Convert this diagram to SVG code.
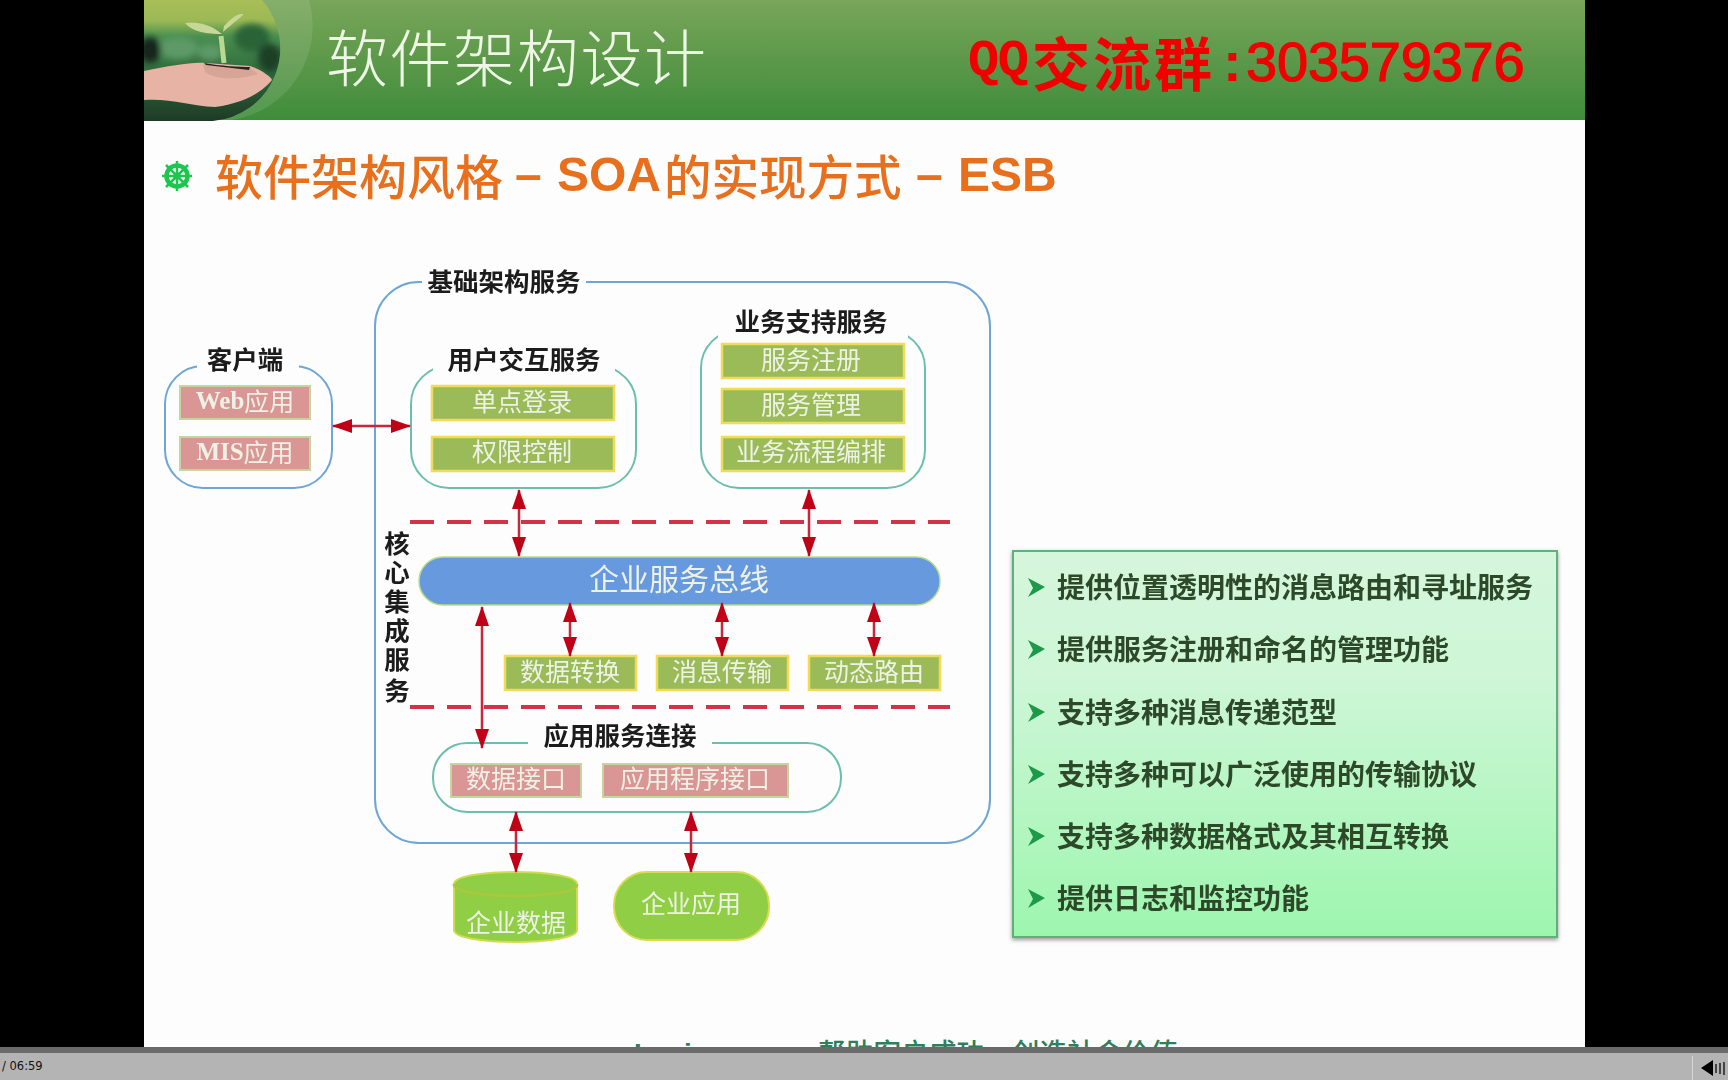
<svg xmlns="http://www.w3.org/2000/svg" width="1728" height="1080" viewBox="0 0 1728 1080">
<style>
text{font-family:"Noto Sans CJK SC","Noto Sans",sans-serif}
.lbl{font-size:25.5px;font-weight:700;fill:#1a1a1a;text-anchor:middle;dominant-baseline:central;transform:translateY(-2px)}
.w{font-size:25px;font-weight:400;fill:#eef2e6;text-anchor:middle;dominant-baseline:central;transform:translateY(-2px)}
.g{fill:#9bbb59;stroke:#f0dc55;stroke-width:2.5}
.p{fill:#d99694;stroke:#c5d5a0;stroke-width:2}
.tb{fill:none;stroke:#6cbfae;stroke-width:2}
.bb{fill:none;stroke:#6ea6d6;stroke-width:2}
.gap{fill:#fdfdfd}
.a{stroke:#c8283c;stroke-width:2.5;fill:none;marker-start:url(#ls);marker-end:url(#le)}
.d{stroke:#d4304a;stroke-width:4;stroke-dasharray:24 13;fill:none}
.pt{font-size:28px;font-weight:700;fill:#2e4a2c;dominant-baseline:central}
.bu{fill:#1e9a4a}
.la{font-family:"Liberation Sans",sans-serif;font-weight:700}
</style>
<defs>
<marker id="le" markerUnits="userSpaceOnUse" markerWidth="20" markerHeight="14" refX="19" refY="7" orient="auto"><path d="M0 0L20 7L0 14Z" fill="#c00016"/></marker>
<marker id="ls" markerUnits="userSpaceOnUse" markerWidth="20" markerHeight="14" refX="1" refY="7" orient="auto"><path d="M20 0L0 7L20 14Z" fill="#c00016"/></marker>
<linearGradient id="hdr" x1="0" y1="0" x2="0" y2="1"><stop offset="0" stop-color="#78a65a"/><stop offset=".55" stop-color="#5a9748"/><stop offset="1" stop-color="#3f8d3c"/></linearGradient>
<linearGradient id="pan" x1="0" y1="0" x2="0" y2="1"><stop offset="0" stop-color="#d6f6dc"/><stop offset=".35" stop-color="#cdf6d6"/><stop offset="1" stop-color="#9df6ae"/></linearGradient>
<linearGradient id="ph" x1="0" y1="0" x2="0" y2="1"><stop offset="0" stop-color="#a9be58"/><stop offset=".17" stop-color="#9cb954"/><stop offset=".3" stop-color="#4a8f50"/><stop offset=".6" stop-color="#2f6a3c"/><stop offset="1" stop-color="#1e3a26"/></linearGradient>
<clipPath id="pc"><path d="M144 0H262A73 73 0 0 1 213 121H144Z"/></clipPath>
<clipPath id="bot"><rect x="144" y="1020" width="1441" height="27"/></clipPath>
<filter id="b1" x="-5%" y="-5%" width="110%" height="110%"><feGaussianBlur stdDeviation="0.7"/></filter>
<filter id="b3" x="-10%" y="-10%" width="120%" height="120%"><feGaussianBlur stdDeviation="3"/></filter>
<filter id="sh" x="-5%" y="-5%" width="110%" height="110%"><feDropShadow dx="0" dy="2" stdDeviation="2" flood-color="#555" flood-opacity=".6"/></filter>
</defs>
<rect width="1728" height="1080" fill="#000"/>
<rect x="144" y="0" width="1441" height="1047" fill="#fdfdfd"/>

<g id="header">
<rect x="144" y="0" width="1441" height="120" fill="url(#hdr)"/>
<path d="M144 0H309A95 95 0 0 1 232 120H144Z" fill="#fff" fill-opacity=".1"/>
<g clip-path="url(#pc)" filter="url(#b1)">
<rect x="144" y="0" width="145" height="121" fill="url(#ph)"/>
<g filter="url(#b3)">
<ellipse cx="178" cy="48" rx="20" ry="11" fill="#5d9a68"/>
<ellipse cx="210" cy="52" rx="12" ry="8" fill="#5d9a68"/>
<ellipse cx="252" cy="38" rx="18" ry="14" fill="#2a6438"/>
<ellipse cx="150" cy="50" rx="11" ry="13" fill="#12281a"/>
<ellipse cx="270" cy="58" rx="12" ry="14" fill="#1a4026"/>
</g>
<path d="M144 71C170 66 190 62 205 63L250 66C262 70 272 78 272 80C262 92 245 103 215 107C190 106 170 98 144 100Z" fill="#e7b3a4"/>
<path d="M203 64L250 68L258 74C240 80 215 80 205 72Z" fill="#d7a595"/>
<path d="M204 63C220 66 240 67 250 67L249 70L206 65Z" fill="#2a2420"/>
<path d="M224 63L221 36" stroke="#b9d890" stroke-width="5" fill="none"/>
<path d="M222 34C210 24 196 21 185 23C192 32 208 34 222 34Z" fill="#c5d89a"/>
<path d="M223 32C232 24 240 18 244 14C236 13 230 20 224 26Z" fill="#c5d89a"/>
</g>
<g filter="url(#b1)">
<text x="326" y="55" font-size="62" font-weight="300" fill="#eef6e6" dominant-baseline="central" textLength="380">软件架构设计</text>
<text y="61" font-size="58" font-weight="700" fill="#f00000" dominant-baseline="central"><tspan x="968" font-family="'Liberation Mono',monospace" font-size="52" letter-spacing="-1.5">QQ</tspan><tspan x="1032" letter-spacing="3">交流群</tspan><tspan x="1223" font-family="'Liberation Sans',sans-serif" font-size="56">:</tspan><tspan x="1246" font-family="'Liberation Sans',sans-serif" font-size="56" font-weight="400" stroke="#f00000" stroke-width="1.2" letter-spacing="-0.2">303579376</tspan></text>
</g>
</g>

<g id="subtitle" filter="url(#b1)">
<g transform="translate(177 176)" fill="#1ec650">
<circle r="10.5" fill="none" stroke="#1ec650" stroke-width="4.5"/><circle r="3.5"/>
<path d="M0-15V15M-15 0H15M-11-11L11 11M-11 11L11-11" stroke="#1ec650" stroke-width="2.5"/>
</g>
<text y="174" font-size="48" fill="#e8701e" font-weight="500" dominant-baseline="central"><tspan x="215">软件架构风格</tspan><tspan x="515" class="la">–</tspan><tspan x="557" class="la">SOA</tspan><tspan x="664" font-size="47.5">的实现方式</tspan><tspan x="916" class="la">–</tspan><tspan x="958" class="la">ESB</tspan></text>
</g>

<g filter="url(#b1)">
<g id="infra">
<rect class="bb" x="375" y="282" width="615" height="561" rx="44"/>
<rect class="gap" x="422" y="270" width="164" height="24"/>
<text class="lbl" x="504" y="281">基础架构服务</text>
</g>
<g id="client">
<rect class="bb" x="165" y="366" width="167" height="122" rx="38"/>
<rect class="gap" x="197" y="355" width="102" height="20"/>
<text class="lbl" x="245" y="359">客户端</text>
<rect class="p" x="180" y="386" width="130" height="33"/>
<text class="w" x="245" y="402"><tspan font-family="'Liberation Serif',serif" font-weight="700">Web</tspan>应用</text>
<rect class="p" x="180" y="437" width="130" height="33"/>
<text class="w" x="245" y="453"><tspan font-family="'Liberation Serif',serif" font-weight="700">MIS</tspan>应用</text>
</g>
<g id="user-service">
<rect class="tb" x="411" y="366" width="225" height="122" rx="38"/>
<rect class="gap" x="433" y="350" width="182" height="26"/>
<text class="lbl" x="524" y="359">用户交互服务</text>
<rect class="g" x="432" y="386" width="182" height="34"/>
<text class="w" x="522" y="402">单点登录</text>
<rect class="g" x="432" y="437" width="182" height="34"/>
<text class="w" x="522" y="452">权限控制</text>
</g>
<g id="business-service">
<rect class="tb" x="701" y="330" width="224" height="158" rx="38"/>
<rect class="gap" x="718" y="312" width="190" height="26"/>
<text class="lbl" x="811" y="321">业务支持服务</text>
<rect class="g" x="722" y="344" width="182" height="34"/>
<text class="w" x="811" y="360">服务注册</text>
<rect class="g" x="722" y="389" width="182" height="34"/>
<text class="w" x="811" y="405">服务管理</text>
<rect class="g" x="722" y="437" width="182" height="34"/>
<text class="w" x="811" y="452">业务流程编排</text>
</g>
<g id="core-label">
<text class="lbl"><tspan x="397" y="543">核</tspan><tspan x="397" y="572">心</tspan><tspan x="397" y="601">集</tspan><tspan x="397" y="630">成</tspan><tspan x="397" y="659">服</tspan><tspan x="397" y="690">务</tspan></text>
</g>
<g id="bus">
<rect x="419" y="557" width="521" height="48" rx="24" fill="#6699dd" stroke="#b8dc8c" stroke-width="1.5"/>
<text class="w" x="679" y="579" style="font-size:30px">企业服务总线</text>
</g>
<g id="data-transform"><rect class="g" x="505" y="656" width="131" height="34"/><text class="w" x="570" y="672">数据转换</text></g>
<g id="message"><rect class="g" x="657" y="656" width="131" height="34"/><text class="w" x="722" y="672">消息传输</text></g>
<g id="routing"><rect class="g" x="809" y="656" width="131" height="34"/><text class="w" x="874" y="672">动态路由</text></g>
<g id="app-connect">
<rect class="tb" x="433" y="743" width="408" height="69" rx="34"/>
<rect class="gap" x="528" y="725" width="184" height="24"/>
<text class="lbl" x="620" y="735">应用服务连接</text>
<rect class="p" x="451" y="764" width="130" height="33"/>
<text class="w" x="516" y="779">数据接口</text>
<rect class="p" x="603" y="764" width="185" height="33"/>
<text class="w" x="695" y="779">应用程序接口</text>
</g>
<g id="enterprise-data">
<path d="M454 884C454 868 577 868 577 884V930C577 946 454 946 454 930Z" fill="#8fce45" stroke="#d0dc50" stroke-width="2"/>
<path d="M454 884C454 900 577 900 577 884" fill="none" stroke="#a8c83c" stroke-width="3"/>
<text class="w" x="516" y="923">企业数据</text>
</g>
<g id="enterprise-app">
<rect x="614" y="872" width="155" height="68" rx="33" fill="#8fce45" stroke="#d8dc50" stroke-width="2"/>
<text class="w" x="691" y="904">企业应用</text>
</g>
<g id="dividers">
<path class="d" d="M410 522H950"/>
<path class="d" d="M410 707H950"/>
</g>
<g id="connectors">
<path class="a" d="M333 426H410"/>
<path class="a" d="M519 490V556"/>
<path class="a" d="M809 490V556"/>
<path class="a" d="M570 603V656"/>
<path class="a" d="M722 603V656"/>
<path class="a" d="M874 603V656"/>
<path class="a" d="M482 607V748"/>
<path class="a" d="M516 812V872"/>
<path class="a" d="M691 812V872"/>
</g>
<g id="features">
<rect x="1013" y="551" width="544" height="386" fill="url(#pan)" stroke="#5fb07a" stroke-width="2" filter="url(#sh)"/>
<g id="bullets">
<path class="bu" d="M1028 578L1045 587L1028 597L1033 588Z"/>
<path class="bu" d="M1028 640L1045 649L1028 659L1033 650Z"/>
<path class="bu" d="M1028 703L1045 712L1028 722L1033 713Z"/>
<path class="bu" d="M1028 765L1045 774L1028 784L1033 775Z"/>
<path class="bu" d="M1028 827L1045 836L1028 846L1033 837Z"/>
<path class="bu" d="M1028 889L1045 898L1028 908L1033 899Z"/>
</g>
<text class="pt" x="1057" y="586">提供位置透明性的消息路由和寻址服务</text>
<text class="pt" x="1057" y="648">提供服务注册和命名的管理功能</text>
<text class="pt" x="1057" y="711">支持多种消息传递范型</text>
<text class="pt" x="1057" y="773">支持多种可以广泛使用的传输协议</text>
<text class="pt" x="1057" y="835">支持多种数据格式及其相互转换</text>
<text class="pt" x="1057" y="897">提供日志和监控功能</text>
</g>
</g>

<g id="footer" clip-path="url(#bot)">
<text y="1063" font-size="27.7" fill="#2f7f5a" font-weight="500"><tspan x="634" class="la">I</tspan><tspan x="684" class="la">i</tspan><tspan x="818">帮助客户成功，创造社会价值</tspan></text>
</g>

<g id="player">
<rect x="0" y="1047" width="1728" height="6" fill="#6a6a6a"/>
<rect x="0" y="1053" width="1728" height="27" fill="#b4b4b4"/>
<rect x="1692" y="1056" width="1" height="24" fill="#d6d6d6"/>
<text x="2" y="1070" font-size="11.5" fill="#111" style="font-family:'DejaVu Sans',sans-serif">/ 06:59</text>
<path d="M1701 1068L1713 1060V1076Z" fill="#000"/>
<path d="M1716 1064V1073M1720 1063V1074M1724 1062V1075" stroke="#222" stroke-width="1.5"/>
</g>
</svg>
